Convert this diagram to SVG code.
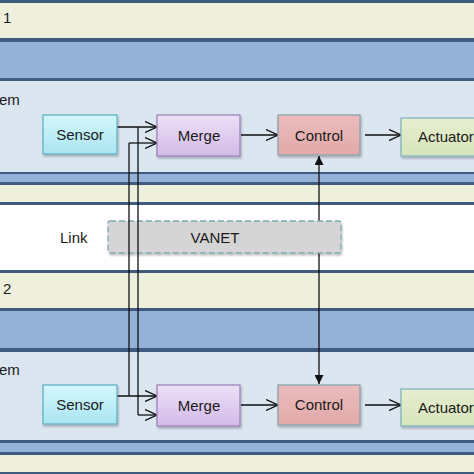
<svg xmlns="http://www.w3.org/2000/svg" width="474" height="474" viewBox="0 0 474 474">
<style>
.t{font-family:"Liberation Sans",Arial,sans-serif;font-size:15px;fill:#1a1a1a}
.dk{fill:#3f5b7e}
.cr{fill:#eef0dd}
.bl{fill:#94b2d7}
.lt{fill:#dce6f1}
.ln{stroke:#111;stroke-width:1.3;fill:none}
.bx{stroke-width:1.3;filter:url(#sh)}
</style>
<defs>
<filter id="sh" x="-10%" y="-10%" width="130%" height="140%"><feDropShadow dx="1" dy="2" stdDeviation="1.2" flood-color="#000" flood-opacity="0.25"/></filter>
<marker id="open" viewBox="0 0 12 12" refX="12" refY="6" markerWidth="12" markerHeight="12" markerUnits="userSpaceOnUse" orient="auto">
<polyline points="0,0.5 12,6 0,11.5" fill="none" stroke="#111" stroke-width="1.3"/>
</marker>
<marker id="fill" viewBox="0 0 10 10" refX="10" refY="5" markerWidth="9" markerHeight="9" markerUnits="userSpaceOnUse" orient="auto-start-reverse">
<polygon points="0,0 10,5 0,10" fill="#111"/>
</marker>
<linearGradient id="gS" x1="0" y1="0" x2="0" y2="1"><stop offset="0" stop-color="#d4f7fc"/><stop offset="1" stop-color="#a9e5f1"/></linearGradient>
<linearGradient id="gM" x1="0" y1="0" x2="0" y2="1"><stop offset="0" stop-color="#ece0f6"/><stop offset="1" stop-color="#d3bae8"/></linearGradient>
<linearGradient id="gC" x1="0" y1="0" x2="0" y2="1"><stop offset="0" stop-color="#ebbcbc"/><stop offset="1" stop-color="#e2a9a9"/></linearGradient>
<linearGradient id="gA" x1="0" y1="0" x2="0" y2="1"><stop offset="0" stop-color="#e6eecf"/><stop offset="1" stop-color="#d6e5bb"/></linearGradient>
</defs>
<g id="bands">
<rect class="dk" x="0" y="0" width="474" height="3"/>
<rect class="cr" x="0" y="3" width="474" height="35"/>
<rect class="dk" x="0" y="38" width="474" height="4"/>
<rect class="bl" x="0" y="42" width="474" height="36"/>
<rect class="dk" x="0" y="78" width="474" height="3"/>
<rect class="lt" x="0" y="81" width="474" height="91"/>
<rect class="dk" x="0" y="172" width="474" height="2"/>
<rect class="bl" x="0" y="174" width="474" height="8"/>
<rect class="dk" x="0" y="182" width="474" height="3"/>
<rect class="cr" x="0" y="185" width="474" height="17"/>
<rect class="dk" x="0" y="202" width="474" height="3"/>
<rect fill="#ffffff" x="0" y="205" width="474" height="65"/>
<rect class="dk" x="0" y="270" width="474" height="3"/>
<rect class="cr" x="0" y="273" width="474" height="35"/>
<rect class="dk" x="0" y="308" width="474" height="3"/>
<rect class="bl" x="0" y="311" width="474" height="37"/>
<rect class="dk" x="0" y="348" width="474" height="4"/>
<rect class="lt" x="0" y="352" width="474" height="88"/>
<rect class="dk" x="0" y="440" width="474" height="3"/>
<rect class="bl" x="0" y="443" width="474" height="9"/>
<rect class="dk" x="0" y="452" width="474" height="3"/>
<rect class="cr" x="0" y="455" width="474" height="17"/>
<rect class="dk" x="0" y="472" width="474" height="2"/>
<text class="t" x="3" y="23">1</text>
<text class="t" x="-1" y="105">em</text>
<text class="t" x="60" y="243">Link</text>
<text class="t" x="3" y="294">2</text>
<text class="t" x="-1" y="375">em</text>
</g>
<g id="connectors-back">
<line class="ln" x1="319" y1="156" x2="319" y2="384" marker-start="url(#fill)" marker-end="url(#fill)"/>
</g>
<g id="vanet">
<rect x="108" y="221" width="233" height="32" rx="2" fill="#d5d5d5" stroke="#7fa9b3" stroke-width="1.3" stroke-dasharray="6,3" filter="url(#sh)"/>
<text class="t" x="215" y="243" text-anchor="middle">VANET</text>
</g>
<g id="connectors">
<line class="ln" x1="117" y1="127" x2="157" y2="127" marker-end="url(#open)"/>
<line class="ln" x1="129" y1="143" x2="157" y2="143" marker-end="url(#open)"/>
<line class="ln" x1="138" y1="127" x2="138" y2="415"/>
<line class="ln" x1="129" y1="143" x2="129" y2="396"/>
<line class="ln" x1="117" y1="396" x2="157" y2="396" marker-end="url(#open)"/>
<line class="ln" x1="138" y1="415" x2="157" y2="415" marker-end="url(#open)"/>
<line class="ln" x1="241" y1="135" x2="278" y2="135" marker-end="url(#open)"/>
<line class="ln" x1="365" y1="135" x2="401" y2="135" marker-end="url(#open)"/>
<line class="ln" x1="241" y1="405" x2="278" y2="405" marker-end="url(#open)"/>
<line class="ln" x1="365" y1="405" x2="401" y2="405" marker-end="url(#open)"/>
</g>
<g id="sensor1"><rect class="bx" x="43" y="115" width="74" height="39" fill="url(#gS)" stroke="#62b3c4"/><text class="t" x="80" y="140" text-anchor="middle">Sensor</text></g>
<g id="merge1"><rect class="bx" x="157" y="115" width="83" height="41" fill="url(#gM)" stroke="#9c84bb"/><text class="t" x="199" y="141" text-anchor="middle">Merge</text></g>
<g id="control1"><rect class="bx" x="278" y="115" width="82" height="40" fill="url(#gC)" stroke="#8aa3ab"/><text class="t" x="319" y="141" text-anchor="middle">Control</text></g>
<g id="actuator1"><rect class="bx" x="401" y="118" width="80" height="38" fill="url(#gA)" stroke="#82b5bd"/><text class="t" x="418" y="142">Actuator</text></g>
<g id="sensor2"><rect class="bx" x="43" y="385" width="74" height="39" fill="url(#gS)" stroke="#62b3c4"/><text class="t" x="80" y="410" text-anchor="middle">Sensor</text></g>
<g id="merge2"><rect class="bx" x="157" y="385" width="83" height="41" fill="url(#gM)" stroke="#9c84bb"/><text class="t" x="199" y="411" text-anchor="middle">Merge</text></g>
<g id="control2"><rect class="bx" x="278" y="385" width="82" height="40" fill="url(#gC)" stroke="#8aa3ab"/><text class="t" x="319" y="410" text-anchor="middle">Control</text></g>
<g id="actuator2"><rect class="bx" x="401" y="389" width="80" height="37" fill="url(#gA)" stroke="#82b5bd"/><text class="t" x="418" y="413">Actuator</text></g>
</svg>
